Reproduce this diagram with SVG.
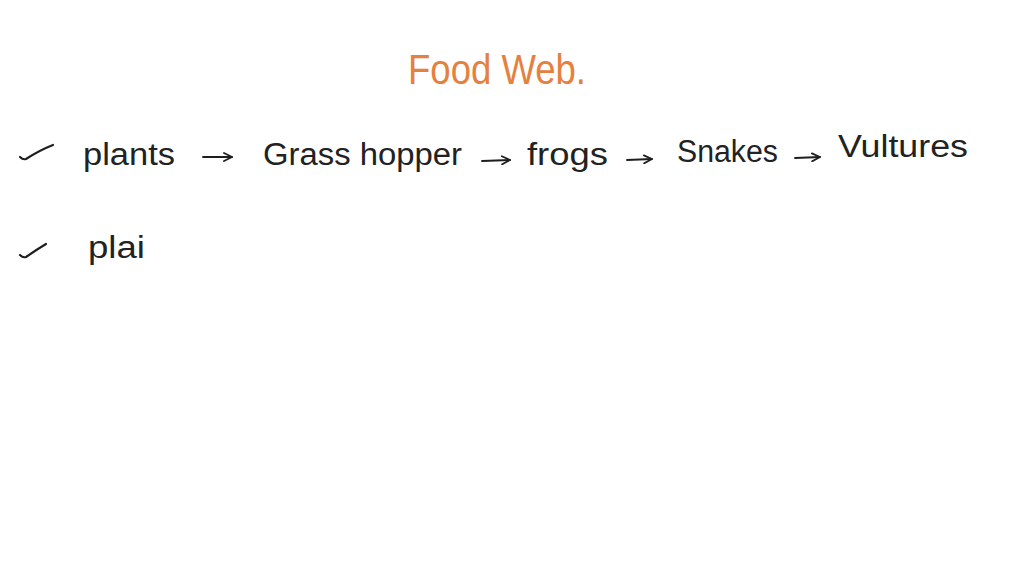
<svg xmlns="http://www.w3.org/2000/svg" width="1024" height="576" viewBox="0 0 1024 576">
  <style>
    .t { font-family: "Liberation Sans", Arial, sans-serif; font-size: 31px; fill: #222222; }
    .title { font-family: "Liberation Sans", Arial, sans-serif; font-size: 42px; fill: #E5813F; }
    .conn { stroke: #1e1e1e; stroke-width: 1.8; fill: none; stroke-linecap: round; marker-end: url(#arr); }
    .tick { stroke: #1e1e1e; stroke-width: 2.2; fill: none; stroke-linecap: round; stroke-linejoin: round; }
  </style>
  <defs>
    <marker id="arr" viewBox="0 0 10 10" refX="9" refY="5" markerWidth="10" markerHeight="10" orient="auto" markerUnits="userSpaceOnUse">
      <path d="M1,1 L9,5 L1,9" fill="none" stroke="#1e1e1e" stroke-width="1.8" stroke-linecap="round" stroke-linejoin="round"/>
    </marker>
  </defs>
  <rect width="1024" height="576" fill="#ffffff"/>
  <g id="title">
    <text class="title" x="408" y="84" textLength="178" lengthAdjust="spacingAndGlyphs">Food Web.</text>
  </g>
  <g id="tick1"><path class="tick" d="M20,157 Q23,160 26,159 Q40,150 53,145"/></g>
  <g id="tick2"><path class="tick" d="M20,255 Q23,258 26,257 Q36,250 46,244"/></g>
  <g id="plants"><text class="t" x="83" y="165" textLength="92" lengthAdjust="spacingAndGlyphs">plants</text></g>
  <g id="grasshopper"><text class="t" x="263" y="165" textLength="199" lengthAdjust="spacingAndGlyphs">Grass hopper</text></g>
  <g id="frogs"><text class="t" x="527" y="165" textLength="81" lengthAdjust="spacingAndGlyphs">frogs</text></g>
  <g id="snakes"><text class="t" x="677" y="162" textLength="101" lengthAdjust="spacingAndGlyphs">Snakes</text></g>
  <g id="vultures"><text class="t" x="838" y="157" textLength="130" lengthAdjust="spacingAndGlyphs">Vultures</text></g>
  <g id="plai"><text class="t" x="88" y="258" textLength="57" lengthAdjust="spacingAndGlyphs">plai</text></g>
  <g id="connectors">
    <path class="conn" d="M203,157 L232,157"/>
    <path class="conn" d="M482,161 L510,160"/>
    <path class="conn" d="M627,160 L652,159"/>
    <path class="conn" d="M795,158 L820,157"/>
  </g>
</svg>
